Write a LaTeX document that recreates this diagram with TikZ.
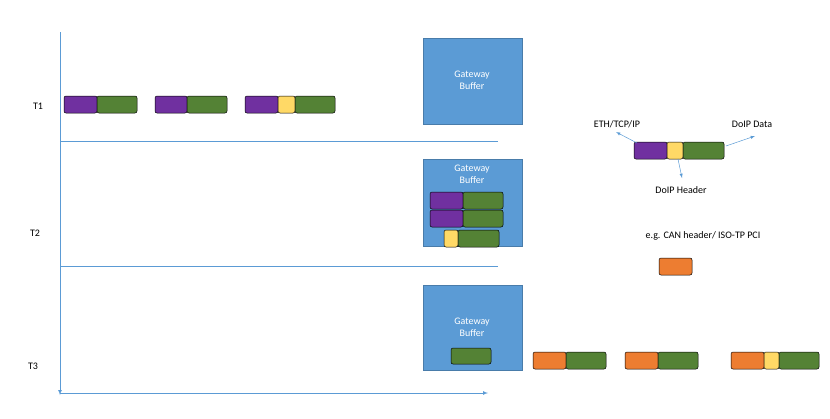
\documentclass[tikz,border=0pt]{standalone}
\usepackage{fontspec}
\setmainfont{Carlito}
\usetikzlibrary{arrows}
\definecolor{pkpurple}{HTML}{7030A0}
\definecolor{pkgreen}{HTML}{548235}
\definecolor{pkyellow}{HTML}{FFD966}
\definecolor{pkorange}{HTML}{ED7D31}
\definecolor{gwblue}{HTML}{5B9BD5}
\tikzset{
  seg/.style={draw=black, line width=0.5pt, rounded corners=2pt},
  eth/.style={seg, fill=pkpurple},
  data/.style={seg, fill=pkgreen},
  hdr/.style={seg, fill=pkyellow},
  can/.style={seg, fill=pkorange},
  axis/.style={draw=gwblue, line width=0.7pt},
  gw/.style={fill=gwblue, draw=gwblue!80!black, line width=0.4pt},
  lbl/.style={font=\fontsize{10}{12}\selectfont}
}
\begin{document}
\begin{tikzpicture}[x=1pt, y=-1pt]
\useasboundingbox (0,0) rectangle (830,418);
% axes and separators
\coordinate (ytop) at (60,32);
\coordinate (orig) at (60,395);
\coordinate (xend) at (488,393);
\draw[axis, -latex] (ytop) -- (orig);
\draw[axis, -latex] (orig |- xend) -- (xend);
\draw[axis] (60,141) -- (498,141);
\draw[axis] (60,266) -- (498,266);
\node[lbl] (t1) at (38,106) {T1};
\node[lbl] (t2) at (35,233) {T2};
\node[lbl] (t3) at (33,366) {T3};
% gateway buffers
\draw[gw] (423,38) rectangle (522,124);
\node[lbl, text=white, align=center] (gw1) at (472,80) {Gateway\\Buffer};
\draw[gw] (423,159) rectangle (522,246);
\node[lbl, text=white, align=center] (gw2) at (472,174) {Gateway\\Buffer};
\draw[gw] (423,285) rectangle (522,370);
\node[lbl, text=white, align=center] (gw3) at (472,327) {Gateway\\Buffer};
% T1 packets
\draw[eth] (64,96) rectangle (97,113);
\draw[data] (97,96) rectangle (137,113);
\draw[eth] (155,96) rectangle (187,113);
\draw[data] (187,96) rectangle (227,113);
\draw[eth] (245,96) rectangle (278,113);
\draw[hdr] (278,96) rectangle (295,113);
\draw[data] (295,96) rectangle (335,113);
% T2 packets
\draw[eth] (430,192) rectangle (463,209);
\draw[data] (463,192) rectangle (503,209);
\draw[eth] (430,210) rectangle (463,227);
\draw[data] (463,210) rectangle (503,227);
\draw[hdr] (444,230) rectangle (458,247);
\draw[data] (458,230) rectangle (499,247);
% T3 packets
\draw[data] (451,348) rectangle (491,364);
\draw[can] (533,352) rectangle (566,369);
\draw[data] (566,352) rectangle (606,369);
\draw[can] (625,352) rectangle (658,369);
\draw[data] (658,352) rectangle (698,369);
\draw[can] (731,352) rectangle (764,369);
\draw[hdr] (764,352) rectangle (779,369);
\draw[data] (779,352) rectangle (819,369);
% legend
\draw[eth] (634,142) rectangle (667,159);
\draw[hdr] (667,142) rectangle (683,159);
\draw[data] (683,142) rectangle (724,159);
\node[lbl] (ethl) at (617,124) {ETH/TCP/IP};
\node[lbl] (datal) at (752,124) {DoIP Data};
\node[lbl] (hdrl) at (681,190) {DoIP Header};
\coordinate (ethp) at (637,143);
\coordinate (datap) at (726,146);
\coordinate (hdrp) at (678,159);
\draw[axis, -latex, line width=0.5pt] (ethp) -- (616,132);
\draw[axis, -latex, line width=0.5pt] (datap) -- (755,136);
\draw[axis, -latex, line width=0.5pt] (hdrp) -- (682,178);
\node[lbl] (canl) at (703,236) {e.g. CAN header/ ISO-TP PCI};
\draw[can] (659,258) rectangle (692,275);
\end{tikzpicture}
\end{document}
